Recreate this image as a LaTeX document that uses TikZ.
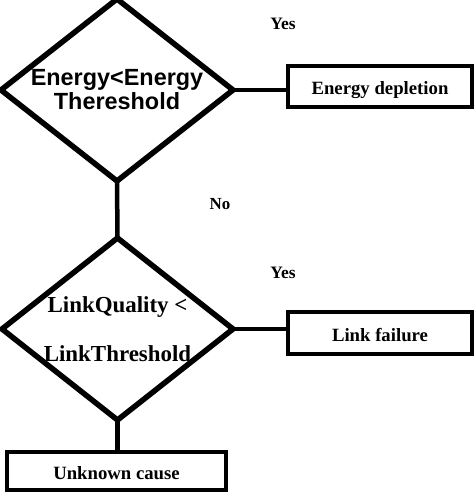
\documentclass[tikz,border=0pt]{standalone}
\usepackage{fontspec}
\setmainfont{Liberation Serif}
\newfontfamily\arialfont{Liberation Sans}
\usetikzlibrary{shapes.geometric}
\tikzset{
  decision/.style={shape=diamond, draw, line width=5.5bp, inner sep=0pt, outer sep=0pt},
  outcome/.style={rectangle, draw, line width=4bp, inner sep=0pt, outer sep=0pt,
    font=\bfseries\fontsize{18.8}{22}\selectfont, text height=17bp, text depth=0pt},
  conn/.style={line width=4.5bp},
  answer/.style={inner sep=0pt, font=\bfseries\fontsize{17.5}{19}\selectfont}
}
\begin{document}
\begin{tikzpicture}[x=1bp,y=-1bp]
\useasboundingbox (0,0) rectangle (474,493);
\node[decision, minimum width=232bp, minimum height=182bp, align=center,
  font=\arialfont\bfseries\fontsize{23.5}{24}\selectfont] (d1) at (117,90)
  {\makebox[0pt]{Energy<Energy}\\\makebox[0pt]{Thereshold}};
\node[decision, minimum width=231bp, minimum height=182bp, align=center,
  font=\bfseries\fontsize{23}{49}\selectfont] (d2) at (117.5,329)
  {\makebox[0pt]{LinkQuality <}\\\makebox[0pt]{LinkThreshold}};
\node[outcome, minimum width=184bp, minimum height=41bp] (b1) at (380,86.5) {Energy depletion};
\node[outcome, minimum width=184bp, minimum height=42bp] (b2) at (380,333) {Link failure};
\node[outcome, minimum width=219bp, minimum height=38bp] (b3) at (116.5,471) {Unknown cause};
\node[answer] (y1) at (283,24) {Yes};
\node[answer] (y2) at (283,273) {Yes};
\node[answer, font=\bfseries\fontsize{17}{19}\selectfont] (n1) at (220,204) {No};
\draw[conn] (d1.east) -- (d1.east -| b1.west);
\draw[conn] (d2.east) -- (d2.east -| b2.west);
\draw[conn] (d1.south) -- (d2.north);
\draw[conn] (d2.south) -- (d2.south |- b3.north);
\end{tikzpicture}
\end{document}
